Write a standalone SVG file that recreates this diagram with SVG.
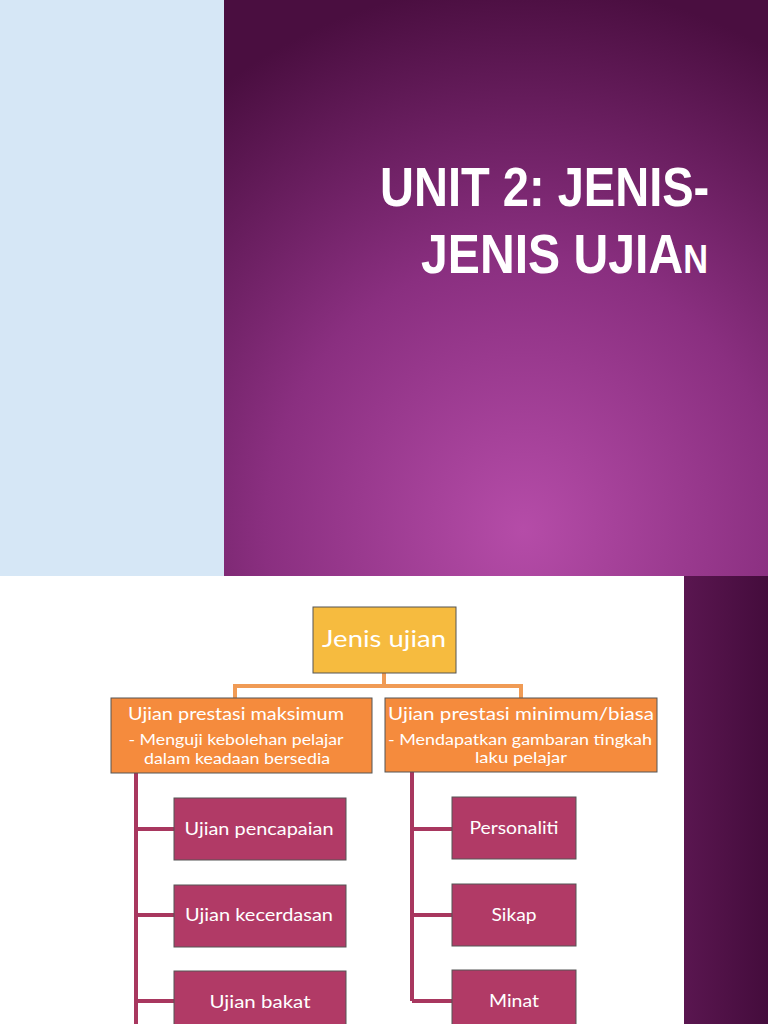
<svg xmlns="http://www.w3.org/2000/svg" width="768" height="1024" viewBox="0 0 768 1024">
<defs>
<radialGradient id="pg" cx="0.55" cy="0.92" r="0.95">
<stop offset="0" stop-color="#b54ca8"/>
<stop offset="0.5" stop-color="#8a2f80"/>
<stop offset="1" stop-color="#4a0e40"/>
</radialGradient>
<linearGradient id="dk" x1="0" y1="0" x2="1" y2="0">
<stop offset="0" stop-color="#5a1650"/>
<stop offset="1" stop-color="#440c3c"/>
</linearGradient>
<style>
.t{font-family:Lato,"Open Sans",sans-serif;fill:#fff;text-anchor:middle}
.h{font-family:"Liberation Sans",sans-serif;font-size:56px;font-weight:bold;fill:#fff}
.y{fill:#f6bb3f;stroke:#555;stroke-width:1}
.o{fill:#f58b3d;stroke:#555;stroke-width:1}
.m{fill:#b13a66;stroke:#555;stroke-width:1}
.oc{stroke:#f09b55;stroke-width:4;fill:none}
.mc{stroke:#a8375f;stroke-width:4;fill:none}
</style>
</defs>
<rect x="0" y="0" width="224" height="576" fill="#d6e7f6"/>
<rect x="224" y="0" width="544" height="576" fill="url(#pg)"/>
<text class="h" transform="translate(380 206) scale(0.84 1)">UNIT 2: JENIS-</text>
<text class="h" transform="translate(421 273) scale(0.86 1)">JENIS UJIA<tspan font-size="40">N</tspan></text>
<rect x="0" y="576" width="684" height="448" fill="#fff"/>
<rect x="684" y="576" width="84" height="448" fill="url(#dk)"/>
<g id="connectors">
<path class="oc" d="M384 673V686M235 698V686H521V698"/>
<path class="mc" d="M136 773V1024M136 829H174M136 915H174M136 1001H174"/>
<path class="mc" d="M412 772V1001M412 829H452M412 915H452M412 1001H452"/>
</g>
<g id="n-root"><rect class="y" x="313" y="607" width="143" height="66"/><text class="t" x="384" y="647" font-size="23" textLength="124" lengthAdjust="spacingAndGlyphs">Jenis ujian</text></g>
<g id="n-maks"><rect class="o" x="111" y="698" width="261" height="75"/>
<text class="t" x="236" y="720" font-size="17" textLength="216" lengthAdjust="spacingAndGlyphs">Ujian prestasi maksimum</text>
<text class="t" x="236" y="745" font-size="15" textLength="215" lengthAdjust="spacingAndGlyphs">- Menguji kebolehan pelajar</text>
<text class="t" x="237" y="764" font-size="15" textLength="186" lengthAdjust="spacingAndGlyphs">dalam keadaan bersedia</text></g>
<g id="n-min"><rect class="o" x="385" y="698" width="272" height="74"/>
<text class="t" x="521" y="720" font-size="17" textLength="266" lengthAdjust="spacingAndGlyphs">Ujian prestasi minimum/biasa</text>
<text class="t" x="520" y="745" font-size="15" textLength="264" lengthAdjust="spacingAndGlyphs">- Mendapatkan gambaran  tingkah</text>
<text class="t" x="521" y="763" font-size="15" textLength="92" lengthAdjust="spacingAndGlyphs">laku pelajar</text></g>
<g id="n-pencapaian"><rect class="m" x="174" y="798" width="172" height="62"/><text class="t" x="259" y="835" font-size="18" textLength="149" lengthAdjust="spacingAndGlyphs">Ujian pencapaian</text></g>
<g id="n-kecerdasan"><rect class="m" x="174" y="885" width="172" height="62"/><text class="t" x="259" y="921" font-size="18" textLength="148" lengthAdjust="spacingAndGlyphs">Ujian kecerdasan</text></g>
<g id="n-bakat"><rect class="m" x="174" y="971" width="172" height="62"/><text class="t" x="260" y="1008" font-size="18" textLength="101" lengthAdjust="spacingAndGlyphs">Ujian bakat</text></g>
<g id="n-personaliti"><rect class="m" x="452" y="797" width="124" height="62"/><text class="t" x="514" y="834" font-size="18" textLength="89" lengthAdjust="spacingAndGlyphs">Personaliti</text></g>
<g id="n-sikap"><rect class="m" x="452" y="884" width="124" height="62"/><text class="t" x="514" y="921" font-size="18" textLength="45" lengthAdjust="spacingAndGlyphs">Sikap</text></g>
<g id="n-minat"><rect class="m" x="452" y="970" width="124" height="62"/><text class="t" x="514" y="1007" font-size="18" textLength="50" lengthAdjust="spacingAndGlyphs">Minat</text></g>
</svg>
